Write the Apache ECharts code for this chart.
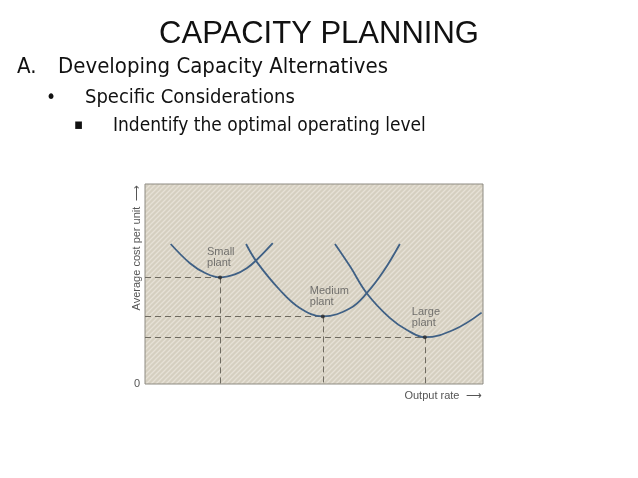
<!DOCTYPE html>
<html>
<head>
<meta charset="utf-8">
<script src="https://cdn.jsdelivr.net/npm/echarts@6/dist/echarts.min.js"></script>
<style>
html,body{margin:0;padding:0;background:#fff;}
#main{width:638px;height:478px;}
</style>
</head>
<body>
<div id="main"></div>
<script>
// ---- data (x: output rate 0-100, y: average cost 0-100) ----
const smallPlant = [[7.6,70.0],[13.3,60.4],[17.8,55.5],[22.2,53.3],[26.6,54.8],[30.1,57.9],[33.0,62.0],[37.8,70.4]];
const mediumPlant = [[29.9,70.0],[33.0,61.2],[39.9,47.0],[45.9,37.9],[52.6,33.8],[60.7,37.9],[65.6,45.4],[70.5,56.2],[75.4,70.0]];
const largePlant = [[56.2,70.0],[60.7,58.7],[65.6,45.4],[72.5,32.9],[77.5,27.0],[82.8,23.4],[91.2,27.0],[99.6,35.7]];
const optimumPoints = [[22.2,53.3],[52.6,33.8],[82.8,23.4]];
const plantLabels = ['Small\nplant','Medium\nplant','Large\nplant'];
const yTickLabels = ['0'];

// hatched beige background pattern
const tile = document.createElement('canvas');
tile.width = 5; tile.height = 5;
const g = tile.getContext('2d');
g.fillStyle = '#d5cfc0';
g.fillRect(0,0,5,5);
g.strokeStyle = '#e6e1d6';
g.lineWidth = 1.3;
g.beginPath();
g.moveTo(-1,6); g.lineTo(6,-1);
g.moveTo(-1,1); g.lineTo(1,-1);
g.moveTo(4,6); g.lineTo(6,4);
g.stroke();

const chart = echarts.init(document.getElementById('main'));
const textFont = '"DejaVu Sans Condensed", "DejaVu Sans", sans-serif';
const curveStyle = {color:'#3f6085', width:1.8};
const tp = 0;

const guideLines = [];
optimumPoints.forEach(p => {
  guideLines.push([{coord:[0,p[1]]},{coord:[p[0],p[1]]}]);
  guideLines.push([{coord:[p[0],p[1]]},{coord:[p[0],0]}]);
});

chart.setOption({
  animation:false,
  backgroundColor:'#ffffff',
  title:[
    {text:'CAPACITY PLANNING', left:'center', top:19, padding:tp, textStyle:{fontFamily:'"Liberation Sans", Arial, sans-serif', fontSize:31, fontWeight:'normal', color:'#111'}},
    {text:'A.', left:17, top:56, padding:tp, textStyle:{fontFamily:textFont, fontSize:22, fontWeight:'normal', color:'#111'}},
    {text:'Developing Capacity Alternatives', left:58, top:56, padding:tp, textStyle:{fontFamily:textFont, fontSize:22, fontWeight:'normal', color:'#111'}},
    {text:'•', left:46, top:89, padding:tp, textStyle:{fontFamily:textFont, fontSize:19, fontWeight:'normal', color:'#111'}},
    {text:'Specific Considerations', left:85, top:88, padding:tp, textStyle:{fontFamily:textFont, fontSize:20, fontWeight:'normal', color:'#111'}},
    {text:'▪', left:74, top:118, padding:tp, textStyle:{fontFamily:textFont, fontSize:15, fontWeight:'normal', color:'#111'}},
    {text:'Indentify the optimal operating level', left:113, top:117, padding:tp, textStyle:{fontFamily:textFont, fontSize:19, fontWeight:'normal', color:'#111'}}
  ],
  grid:{left:145, top:184, width:338, height:200, show:true, backgroundColor:{image:tile, repeat:'repeat'}, borderColor:'#8e8b82', borderWidth:1},
  xAxis:{
    type:'value', min:0, max:100,
    axisLine:{show:false}, axisTick:{show:false}, splitLine:{show:false}, axisLabel:{show:false},
    name:'Output rate  ⟶', nameLocation:'middle', nameGap:6, nameMoveOverlap:false,
    nameTextStyle:{fontFamily:'"Liberation Sans", Arial, sans-serif', fontSize:11, color:'#555', padding:[0,0,0,258]}
  },
  yAxis:{
    type:'value', min:0, max:100, interval:100,
    axisLine:{show:false}, axisTick:{show:false}, splitLine:{show:false},
    axisLabel:{show:true, margin:5, fontSize:11, color:'#555', fontFamily:'"Liberation Sans", Arial, sans-serif',
      formatter:(v)=> v===0 ? yTickLabels[0] : ''},
    name:'Average cost per unit  ⟶', nameLocation:'middle', nameRotate:90, nameGap:3, nameMoveOverlap:false,
    nameTextStyle:{fontFamily:'"Liberation Sans", Arial, sans-serif', fontSize:11, color:'#555', padding:[0,0,0,73]}
  },
  series:[
    {type:'line', name:'Small plant', data:smallPlant, smooth:0.4, symbol:'none', lineStyle:curveStyle, z:3},
    {type:'line', name:'Medium plant', data:mediumPlant, smooth:0.4, symbol:'none', lineStyle:curveStyle, z:3},
    {type:'line', name:'Large plant', data:largePlant, smooth:0.4, symbol:'none', lineStyle:curveStyle, z:3},
    {type:'scatter', data:optimumPoints.map((p,i)=>({value:p, label:{formatter:plantLabels[i]}})),
      symbolSize:4, itemStyle:{color:'#2b2b2b'}, z:4,
      label:{show:true, position:'top', align:'left', offset:[-13,0], distance:7, fontSize:11, lineHeight:11,
        color:'#555', fontFamily:'"Liberation Sans", Arial, sans-serif'},
      markLine:{silent:true, symbol:['none','none'], label:{show:false},
        lineStyle:{color:'#6e6a60', width:1, type:[6,4]}, data:guideLines, z:2}
    }
  ]
});
</script>
</body>
</html>
